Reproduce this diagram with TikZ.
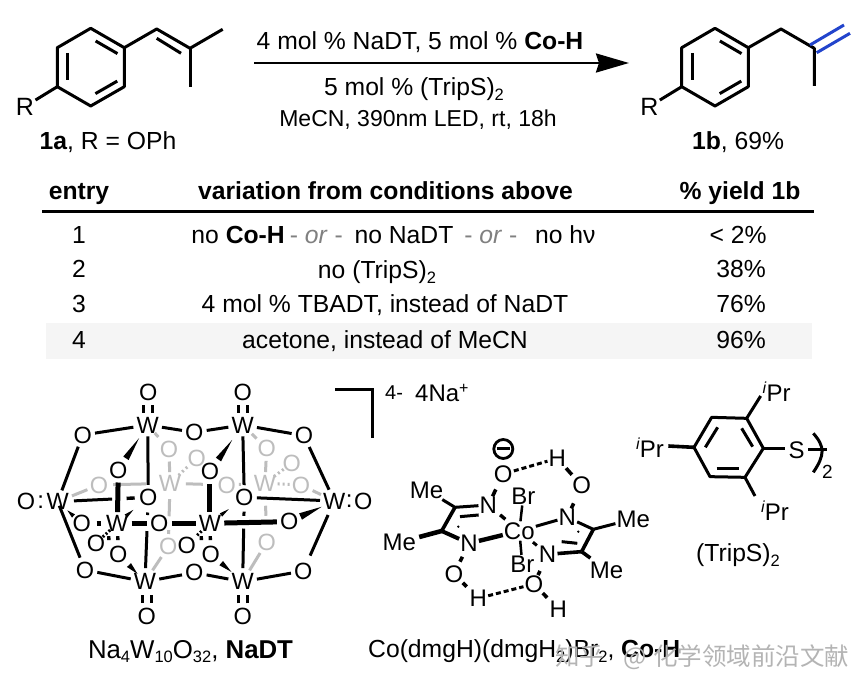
\documentclass[tikz,border=0pt]{standalone}
\usepackage{fontspec}
\setmainfont{Liberation Sans}
\newfontfamily\cjk{Noto Sans CJK SC}
\usetikzlibrary{calc,arrows.meta}
\definecolor{bluebond}{HTML}{2244CC}
\definecolor{ghost}{HTML}{BDBDBD}
\definecolor{wmark}{HTML}{B4B4B4}
\definecolor{rowbg}{HTML}{F5F5F5}
\newcommand\fs[1]{\fontsize{#1}{#1}\selectfont}
\newcommand\dn[1]{\raisebox{-4.5pt}{\fs{16.5}#1}}
\newcommand\up[1]{\raisebox{8pt}{\fs{16}#1}}
\tikzset{
  bond/.style={line width=3pt,line cap=butt,line join=round},
  thin bond/.style={line width=2.5pt},
  fat bond/.style={line width=5pt},
  txt/.style={font=\fs{24.7},inner sep=0pt,text depth=0pt},
  hdr/.style={font=\fs{24.7}\bfseries,inner sep=0pt,text depth=0pt,text height=17pt},
  O/.style={circle,inner sep=0pt,font=\fs{23.5}},
  A/.style={rectangle,inner xsep=3pt,inner ysep=3pt,font=\fs{23.5}},
  GO/.style={O,text=ghost},
  GA/.style={A,text=ghost},
  ghostb/.style={bond,color=ghost},
}
% segment of the line a-b between two fractions
\newcommand\seg[5][bond]{\draw[#1] ($(#2)!#4!(#3)$) -- ($(#2)!#5!(#3)$);}
% wedge on the line a-b: narrow at fraction f1, wide at f2, half width w
\newcommand\wdg[5]{\coordinate (wa) at ($(#1)!#3!(#2)$);\coordinate (wb) at ($(#1)!#4!(#2)$);%
  \fill (wa) -- ($(wb)!#5!90:(wa)$) -- ($(wb)!#5!-90:(wa)$) -- cycle;}
% double-dashed W=O bond
\newcommand\dbl[2]{\coordinate (da) at (#1);\coordinate (db) at (#2);%
  \draw[bond,line width=3pt] ([xshift=-4.6pt]da) -- ([xshift=-4.6pt]db);\draw[bond,line width=3pt] ([xshift=4.6pt]da) -- ([xshift=4.6pt]db);}
\begin{document}
\begin{tikzpicture}[x=1pt,y=-1pt]
\useasboundingbox (0,0) rectangle (864,690);
\fill[white] (0,0) rectangle (864,690);

%%% 1a
\begin{scope}[bond]
\coordinate (a1) at (90.7,28.3);\coordinate (a2) at (124.3,47.7);\coordinate (a3) at (124.3,86.7);
\coordinate (a4) at (90.7,106);\coordinate (a5) at (57.3,86.7);\coordinate (a6) at (57.3,47.7);
\coordinate (a7) at (156.7,29);\coordinate (a8) at (190,48.3);\coordinate (a9) at (222.7,29.3);\coordinate (a10) at (190,86.7);
\draw (a1)--(a2)--(a3)--(a4)--(a5)--(a6)--cycle;
\draw ($(a1)!.2!(a2)+(-1.8,8.8)$) -- ($(a1)!.85!(a2)+(-1.8,8.8)$);
\draw (67.7,53) -- (67.7,80);
\draw ($(a4)!.2!(a3)+(-2,-8.5)$) -- ($(a4)!.85!(a3)+(-2,-8.5)$);
\draw (a2)--(a7)--(a8)--(a9);
\draw (a8)--(a10);
\draw (156.7,38.3)--(181,53.3);
\node[txt,font=\fs{25}] (Ra) at (25,106.5) {R};
\draw (a5)--(Ra);
\end{scope}
\node[txt] (lab1a) at (108,141) {\textbf{1a}, R = OPh};

%%% 1b
\begin{scope}[bond]
\coordinate (b1) at (715,28.3);\coordinate (b2) at (748.3,47.7);\coordinate (b3) at (748.3,86.7);
\coordinate (b4) at (715,106);\coordinate (b5) at (681.7,86.7);\coordinate (b6) at (681.7,47.7);
\coordinate (b7) at (781,29);\coordinate (b8) at (814.3,48.3);\coordinate (b10) at (814.3,86);
\draw (b1)--(b2)--(b3)--(b4)--(b5)--(b6)--cycle;
\draw ($(b1)!.2!(b2)+(-1.8,8.8)$) -- ($(b1)!.85!(b2)+(-1.8,8.8)$);
\draw (692,53) -- (692,80);
\draw ($(b4)!.2!(b3)+(-2,-8.5)$) -- ($(b4)!.85!(b3)+(-2,-8.5)$);
\draw (b2)--(b7)--(b8)--(b10);
\coordinate (b11) at (810,45);\coordinate (b12) at (844,25);\coordinate (b13) at (816.7,52.7);\coordinate (b14) at (850,33.3);
\draw[bluebond] (b11)--(b12);
\draw[bluebond] (b13)--(b14);
\node[txt,font=\fs{25}] (Rb) at (649.3,106.5) {R};
\draw (b5)--(Rb);
\end{scope}
\node[txt] (lab1b) at (738,141) {\textbf{1b}, 69\%};

%%% arrow
\coordinate (arrS) at (254,63);\coordinate (arrE) at (629,63);
\draw[line width=2.4pt,-{Stealth[length=33pt,width=19pt,inset=3pt]}] (arrS) -- (arrE);
\node[txt] (c1) at (420,40.5) {4 mol \% NaDT, 5 mol \% \textbf{Co-H}};
\node[txt] (c2) at (414,87) {5 mol \% (TripS)\dn{2}};
\node[txt,font=\fs{23}] (c3) at (418,118) {MeCN, 390nm LED, rt, 18h};

%%% table
\fill[rowbg] (46,323) rectangle (812,359);
\node[hdr] (h1) at (79,191) {entry};
\node[hdr] (h2) at (385.5,191) {variation from conditions above};
\node[hdr] (h3) at (740,191) {\% yield 1b};
\coordinate (ruleS) at (42,211);\coordinate (ruleE) at (814,211);
\draw[line width=3pt] (ruleS) -- (ruleE);
\node[txt] (e1) at (79,235) {1};
\node[txt] (e2) at (79,269) {2};
\node[txt] (e3) at (79,304) {3};
\node[txt] (e4) at (79,340) {4};
\node[txt] (v1) at (393.5,235) {no \textbf{Co-H}\hspace{5pt}{\color{gray} - \textit{or} - }\hspace{5pt}no NaDT\hspace{4pt} {\color{gray} - \textit{or} -}\hspace{11pt} no hν};
\node[txt] (v2) at (377,270) {no (TripS)\dn{2}};
\node[txt] (v3) at (385,304) {4 mol \% TBADT, instead of NaDT};
\node[txt] (v4) at (385,340) {acetone, instead of MeCN};
\node[txt] (y1) at (738,235) {< 2\%};
\node[txt] (y2) at (741,269) {38\%};
\node[txt] (y3) at (741,304) {76\%};
\node[txt] (y4) at (741,340) {96\%};

%%% POM
\begin{scope}[shift={(0,370)},x=0.3333pt,y=-0.3333pt]
% ghost layer
\node[GO] (g1) at (507,237) {O};
\node[GO] (g2) at (590,265) {O};
\node[GO] (g3) at (297,345) {O};
\node[GA] (gW1) at (510,340) {W};
\node[GO] (g4) at (680,345) {O};
\node[GO] (g5) at (800,235) {O};
\node[GO] (g6) at (875,280) {O};
\node[GA] (gW2) at (795,340) {W};
\node[GO] (g7) at (903,345) {O};
\node[GO] (g8) at (505,530) {O};
\node[GO] (g9) at (800,517) {O};
% black atoms
\node[O] (Ot1) at (445,68) {O};
\node[O] (Ot2) at (728,68) {O};
\node[A] (W1) at (443,165) {W};
\node[A] (W2) at (728,165) {W};
\node[O] (Ob1) at (583,187) {O};
\node[O] (Ol1) at (248,195) {O};
\node[O] (Or1) at (912,197) {O};
\node[O] (OL) at (78,395) {O};
\node[A] (WL) at (173,395) {W};
\node[A] (WR) at (1003,393) {W};
\node[O] (OR) at (1090,393) {O};
\node[inner sep=0pt,font=\fs{24}] (cL) at (122,397) {:};
\node[inner sep=0pt,font=\fs{24}] (cR) at (1048,395) {:};
\node[O] (Ou1) at (355,300) {O};
\node[O] (Ou2) at (630,305) {O};
\node[O] (Om1) at (445,382) {O};
\node[O] (Om2) at (733,382) {O};
\node[A] (W3) at (352,460) {W};
\node[A] (W4) at (630,460) {W};
\node[O] (Of0) at (245,460) {O};
\node[O] (Of1) at (478,460) {O};
\node[O] (Of2) at (868,455) {O};
\node[O] (Od1) at (288,520) {O};
\node[O] (Oe1) at (355,552) {O};
\node[O] (Od2) at (560,525) {O};
\node[O] (Oe2) at (632,552) {O};
\node[A] (W5) at (435,635) {W};
\node[A] (W6) at (728,635) {W};
\node[O] (Ol2) at (255,600) {O};
\node[O] (Ob2) at (583,608) {O};
\node[O] (Or2) at (910,603) {O};
\node[O] (Ob3) at (440,738) {O};
\node[O] (Ob4) at (728,738) {O};
% ghost bonds
\draw[ghostb] (WL) -- (g3);
\seg[ghostb]{g3}{gW1}{.2}{.66}
\draw[ghostb] (g1) -- (gW1);
\seg[ghostb,dash pattern=on 2pt off 3pt]{g2}{gW1}{.35}{.7}
\seg[ghostb]{gW1}{g4}{.28}{.58}
\seg[ghostb]{gW1}{g8}{.25}{.52}
\seg[ghostb]{gW1}{g8}{.74}{.8}
\seg[ghostb]{W1}{g1}{.33}{.5}
\seg[ghostb]{W2}{g5}{.38}{.58}
\draw[ghostb] (g5) -- (gW2);
\seg[ghostb,dash pattern=on 2pt off 3pt]{g6}{gW2}{.3}{.72}
\seg[ghostb,dash pattern=on 2pt off 3pt]{gW2}{g7}{.35}{.72}
\seg[ghostb,dash pattern=on 2pt off 3pt]{g4}{gW2}{.32}{.55}
\seg[ghostb]{gW2}{g9}{.38}{.55}
\seg[ghostb]{g7}{WR}{.35}{.6}
\draw[ghostb] (g8) -- (W5);
\draw[ghostb] (g9) -- (W6);
% black bonds
\draw[bond] (Ol1) -- (W1);
\draw[bond] (W1) -- (Ob1);
\draw[bond] (Ob1) -- (W2);
\draw[bond] (W2) -- (Or1);
\draw[bond] (Ol1) -- (WL);
\draw[bond] (Or1) -- (WR);
\seg{WL}{Ol2}{.06}{.82}
\seg{WR}{Or2}{.2}{.78}
\draw[bond] (Ol2) -- (W5);
\draw[bond] (W5) -- (Ob2);
\draw[bond] (Ob2) -- (W6);
\draw[bond] (W6) -- (Or2);
\draw[bond] (W1) -- (Om1);
\draw[bond] (W2) -- (Om2);
\dbl{Ot1.south}{$(Ot1.south)+(0,24)$}
\dbl{Ot2.south}{$(Ot2.south)+(0,24)$}
\dbl{$(Ob3.north)+(0,-24)$}{Ob3.north}
\dbl{Ob4.north}{$(Ob4.north)+(0,-24)$}
\wdg{W1}{Ou1}{.29}{.74}{3.2pt}
\wdg{W2}{Ou2}{.32}{.74}{3.2pt}
\draw[bond,fat bond] (Ou1) -- (W3);
\draw[bond,fat bond] (Ou2) -- (W4);
\seg{WL}{Om1}{.18}{.6}
\seg[bond,line width=3.4pt]{WL}{Om1}{.76}{.85}
\draw[bond] (Om2) -- (WR);
\draw[bond,fat bond] (W3) -- (Of1);
\draw[bond,fat bond] (Of1) -- (W4);
\draw[bond,fat bond] (W4) -- (Of2);
\seg[bond,fat bond]{Of0}{W3}{.42}{.55}
\wdg{WR}{Of2}{.28}{.75}{3.5pt}
\wdg{WL}{Of0}{.4}{.66}{2.2pt}
\wdg{Om1}{W3}{.48}{.72}{2pt}
\wdg{Om2}{W4}{.45}{.68}{2pt}
\seg[bond,dash pattern=on 2pt off 2pt]{Od1}{W3}{.32}{.72}
\seg[bond,dash pattern=on 2pt off 2pt]{Od2}{W4}{.45}{.7}
\coordinate (W3s) at ($(W3)+(-27,0)$);\coordinate (Oe1s) at ($(Oe1)+(-27,0)$);
\coordinate (W4s) at ($(W4)+(-27,0)$);\coordinate (Oe2s) at ($(Oe2)+(-27,0)$);
\seg[bond,line width=3.4pt]{W3}{Oe1}{.42}{.55}
\seg[bond,line width=3.4pt]{W3s}{Oe1s}{.42}{.55}
\seg[bond,line width=3.4pt]{W4}{Oe2}{.42}{.55}
\seg[bond,line width=3.4pt]{W4s}{Oe2s}{.42}{.55}
\wdg{W5}{Oe1}{.28}{.6}{2.8pt}
\wdg{W6}{Oe2}{.35}{.67}{2.8pt}
\seg{Om1}{W5}{.18}{.21}
\seg{Om1}{W5}{.4}{.84}
\seg{Om2}{W6}{.17}{.22}
\seg{Om2}{W6}{.37}{.84}
\end{scope}
\node[txt,font=\fs{25.8}] (labN) at (190.5,649) {Na\dn{4}W\dn{10}O\dn{32}, \textbf{NaDT}};

% bracket
\coordinate (brA) at (335,389);\coordinate (brB) at (372,389);\coordinate (brC) at (372,438);
\draw[line width=3pt,miter limit=10] (brA) -- (brB) -- (brC);
\node[inner sep=0pt,font=\fs{20},anchor=west] (chg) at (385,393) {4-};
\node[inner sep=0pt,font=\fs{24},anchor=west] (na) at (415,393) {4Na\up{+}};

%%% Co complex
\begin{scope}[shift={(360,370)},x=0.3333pt,y=-0.3333pt]
\tikzset{At/.style={rectangle,inner sep=1pt,font=\fs{24}}}
\node[circle,draw,line width=2.8pt,minimum size=19pt,inner sep=0pt] (neg) at (430,237) {};
\coordinate (negL) at (410,237);\coordinate (negR) at (450,237);
\draw[line width=3pt] (negL) -- (negR);
\node[At] (cO1) at (430,312) {O};
\node[At] (cH1) at (592,265) {H};
\node[At] (cO2) at (665,347) {O};
\node[At] (cMe1) at (200,360) {Me};
\node[At] (cN1) at (385,405) {N};
\node[At] (cBr1) at (490,378) {Br};
\node[At] (Co) at (478,483) {Co};
\node[At] (cN2) at (622,442) {N};
\node[At] (cMe2) at (820,447) {Me};
\node[At] (cMe3) at (118,517) {Me};
\node[At] (cN3) at (327,520) {N};
\node[At] (cN4) at (563,553) {N};
\node[At] (cBr2) at (487,583) {Br};
\node[At] (cMe4) at (740,600) {Me};
\node[At] (cO3) at (282,612) {O};
\node[At] (cO4) at (522,642) {O};
\node[At] (cH2) at (355,685) {H};
\node[At] (cH3) at (595,718) {H};
\coordinate (C1) at (285,412);\coordinate (C2) at (245,483);
\coordinate (C3) at (700,478);\coordinate (C4) at (665,545);
\tikzset{hb/.style={bond,line width=3pt,dash pattern=on 5pt off 3pt}}
\draw[hb] (cO1) -- (cH1);
\draw[hb] (cH2) -- (cO4);
\seg[bond,line width=3.6pt]{cH1}{cO2}{.36}{.6}
\seg[bond,line width=3.6pt]{cO1}{cN1}{.5}{.72}
\seg[bond,line width=3.6pt]{cO2}{cN2}{.56}{.72}
\draw[bond] (cMe1) -- (C1);
\draw[bond,line width=3.6pt] (C1) -- (C2);
\draw[bond] (C1) -- (cN1);
\coordinate (i1) at (300,440);\coordinate (i2) at (356,435);\draw[bond] (i1) -- (i2);
\draw[bond,line width=4pt] (C2) -- (cN3);
\seg[bond,line width=4.6pt]{cMe3}{C2}{.47}{1}
\seg[bond,line width=3.4pt]{cN1}{Co}{.38}{.55}
\draw[bond,line width=4.4pt] (cN3) -- (Co);
\seg[bond,line width=3.6pt]{cN3}{cO3}{.44}{.6}
\seg[bond,line width=3.6pt]{cO3}{cH2}{.36}{.52}
\seg[bond,line width=3.6pt]{cO4}{cH3}{.36}{.54}
\draw[thin bond] (cBr1) -- (Co);
\draw[thin bond] (Co) -- (cBr2);
\draw[bond] (Co) -- (cN2);
\draw[bond] (cN2) -- (C3);
\draw[bond] (C3) -- (cMe2);
\draw[bond,line width=3.6pt] (C3) -- (C4);
\draw[bond,line width=3.6pt] (C4) -- (cN4);
\coordinate (i3) at (605,515);\coordinate (i4) at (652,520);\draw[bond] (i3) -- (i4);
\seg[bond,line width=3.6pt]{C4}{cMe4}{0}{.35}
\seg[bond,line width=3pt]{Co}{cN4}{.48}{.62}
\seg[bond,line width=3.6pt]{cN4}{cO4}{.56}{.7}
\coordinate (d1) at (295,470);\coordinate (d2) at (655,485);
\fill (d1) circle (1.3pt);\fill (d2) circle (1.3pt);
\end{scope}
\node[txt,anchor=west] (labC) at (368,649) {Co(dmgH)(dmgH\dn{2})Br\dn{2}, \textbf{Co-H}};

%%% (TripS)2
\begin{scope}[shift={(620,370)},x=0.3333pt,y=-0.3333pt]
\tikzset{At/.style={rectangle,inner sep=1pt,font=\fs{24}}}
\coordinate (t1) at (275,142);\coordinate (t2) at (380,145);\coordinate (t3) at (430,235);
\coordinate (t4) at (375,322);\coordinate (t5) at (270,320);\coordinate (t6) at (222,232);
\draw[bond] (t1)--(t2)--(t3)--(t4)--(t5)--(t6)--cycle;
\coordinate (ti1) at (293,172);\coordinate (ti2) at (256,232);
\coordinate (ti3) at (365,175);\coordinate (ti4) at (398,230);
\coordinate (ti5) at (290,295);\coordinate (ti6) at (358,295);
\draw[bond] (ti1)--(ti2);\draw[bond] (ti3)--(ti4);\draw[bond] (ti5)--(ti6);
\node[At] (p1) at (470,65) {\up{\textit{i}}Pr};
\node[At] (p2) at (90,233) {\up{\textit{i}}Pr};
\node[At] (p3) at (465,423) {\up{\textit{i}}Pr};
\node[At] (S) at (530,242) {S};
\node[inner sep=0pt,font=\fs{19}] (two) at (622,305) {2};
\coordinate (pA) at (580,190);\coordinate (pB) at (580,307);\coordinate (pE) at (622,240);
\coordinate (p1e) at (422,78);\coordinate (p3e) at (405,378);\coordinate (p2e) at (145,228);\coordinate (sS) at (495,235);\coordinate (sE) at (565,240);
\draw[bond] (t2)--(p1e);
\draw[bond,line width=3.6pt] (t6)--(p2e);
\draw[bond] (t3)--(sS);
\draw[bond] (t4)--(p3e);
\draw[bond] (sE)--(pE);
\draw[bond] (pA) .. controls (615,230) and (615,255) .. (pB);
\end{scope}
\node[txt] (labT) at (738,553) {(TripS)\dn{2}};

%%% watermark
\node[inner sep=0pt,anchor=west,font=\cjk\fs{24.5},text=wmark] (wm) at (555,657) {知乎\hspace{19pt}@\hspace{7pt}化学领域前沿文献};
\end{tikzpicture}
\end{document}
